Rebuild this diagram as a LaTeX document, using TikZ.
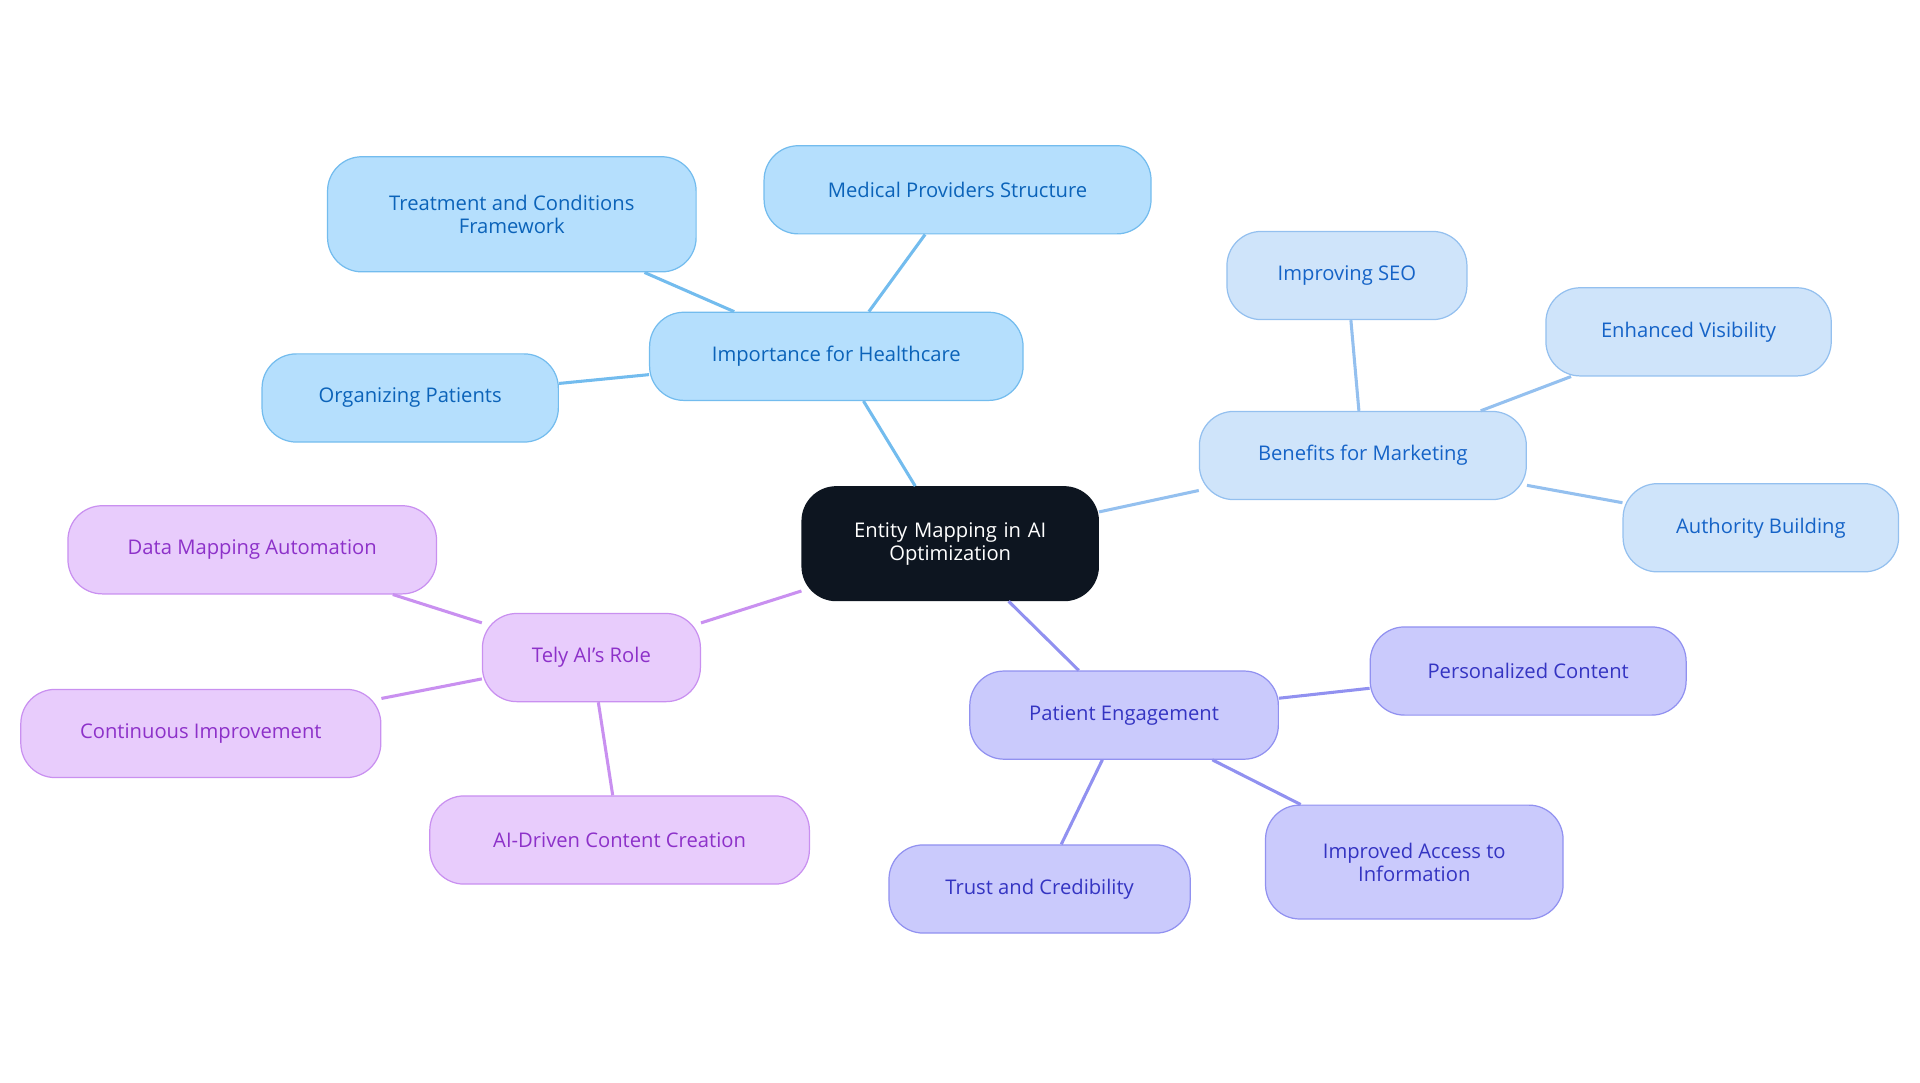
\documentclass[tikz,border=0pt]{standalone}
\usepackage{fontspec}
\setmainfont{Open Sans}
\begin{document}
\definecolor{bF}{HTML}{B5DFFD}\definecolor{bS}{HTML}{73BCEE}\definecolor{bT}{HTML}{0B63B9}
\definecolor{mF}{HTML}{CFE4FA}\definecolor{mS}{HTML}{94C0EF}\definecolor{mT}{HTML}{1563C7}
\definecolor{pF}{HTML}{CACAFC}\definecolor{pS}{HTML}{9191F0}\definecolor{pT}{HTML}{3434C2}
\definecolor{tF}{HTML}{E8CCFC}\definecolor{tS}{HTML}{C990F0}\definecolor{tT}{HTML}{8D31C9}
\definecolor{cF}{HTML}{0D1520}
\begin{tikzpicture}[x=1pt,y=-1pt,
 box/.style={rounded corners=28pt,draw,line width=1pt,minimum height=72pt,align=center,inner sep=0pt,font=\fontsize{16.5}{19}\selectfont},
 B/.style={box,fill=bF,draw=bS,text=bT},
 M/.style={box,fill=mF,draw=mS,text=mT},
 P/.style={box,fill=pF,draw=pS,text=pT},
 T/.style={box,fill=tF,draw=tS,text=tT},
 e/.style={line width=2.5pt}]
\useasboundingbox (0,0) rectangle (1568,884);
\node[box,fill=cF,draw=cF,text=white,minimum width=242pt,minimum height=93pt,text width=220pt] (c) at (776,444) {Entity Mapping in AI\\Optimization};
\node[B,minimum width=305pt] (ih) at (683,291) {Importance for Healthcare};
\node[B,minimum width=301pt,minimum height=94pt] (tc) at (418,175) {Treatment and Conditions\\Framework};
\node[B,minimum width=316pt] (mp) at (782,155) {Medical Providers Structure};
\node[B,minimum width=242pt] (op) at (335,325) {Organizing Patients};
\node[M,minimum width=267pt] (bm) at (1113,372) {Benefits for Marketing};
\node[M,minimum width=196pt] (seo) at (1100,225) {Improving SEO};
\node[M,minimum width=233pt] (ev) at (1379,271) {Enhanced Visibility};
\node[M,minimum width=225pt] (ab) at (1438,431) {Authority Building};
\node[P,minimum width=252pt] (pe) at (918,584) {Patient Engagement};
\node[P,minimum width=258pt] (pc) at (1248,548) {Personalized Content};
\node[P,minimum width=243pt,minimum height=93pt] (ia) at (1155,704) {Improved Access to\\Information};
\node[P,minimum width=246pt] (tr) at (849,726) {Trust and Credibility};
\node[T,minimum width=178pt] (ta) at (483,537) {Tely AI's Role};
\node[T,minimum width=301pt] (dm) at (206,449) {Data Mapping Automation};
\node[T,minimum width=294pt] (ci) at (164,599) {Continuous Improvement};
\node[T,minimum width=310pt] (ad) at (506,686) {AI-Driven Content Creation};
\begin{scope}[on background layer/.style={}]
\end{scope}
\begin{pgfinterruptboundingbox}\end{pgfinterruptboundingbox}
\draw[e,bS] (c) -- (ih); \draw[e,bS] (ih) -- (tc); \draw[e,bS] (ih) -- (mp); \draw[e,bS] (ih) -- (op);
\draw[e,mS] (c) -- (bm); \draw[e,mS] (bm) -- (seo); \draw[e,mS] (bm) -- (ev); \draw[e,mS] (bm) -- (ab);
\draw[e,pS] (c) -- (pe); \draw[e,pS] (pe) -- (pc); \draw[e,pS] (pe) -- (ia); \draw[e,pS] (pe) -- (tr);
\draw[e,tS] (c) -- (ta); \draw[e,tS] (ta) -- (dm); \draw[e,tS] (ta) -- (ci); \draw[e,tS] (ta) -- (ad);
\end{tikzpicture}
\end{document}
